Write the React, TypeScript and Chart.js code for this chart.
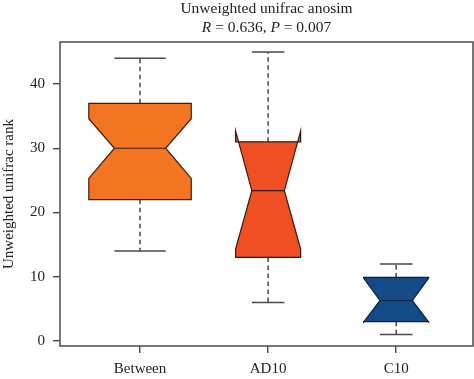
import React, { useEffect, useRef } from "react";
import { Chart, registerables } from "chart.js";

Chart.register(...registerables);

// ---- data ----
const categories = ["Between", "AD10", "C10"];
const whiskerLow = [14, 6, 1];
const q1 = [22, 13, 3];
const median = [30, 23.4, 6.3];
const q3 = [37, 31, 9.9];
const whiskerHigh = [44, 45, 12];
const notchLow = [25.3, 14.3, 2.95];
const notchHigh = [34.6, 32.7, 9.8];
const yTicks = [0, 10, 20, 30, 40];

// ---- style ----
const fills = ["#F37521", "#F04F24", "#134A88"];
const strokes = ["#3a1e10", "#3a1a10", "#0b1f3a"];
const boxHalf = [0.4, 0.254, 0.254];
const FONT = "'Liberation Serif', 'DejaVu Serif', serif";

const boxPlugin = {
  id: "notchedBoxes",
  afterDatasetsDraw(chart: any) {
    const { ctx, chartArea } = chart;
    const xs = chart.scales.x;
    const ys = chart.scales.y;
    ctx.save();
    categories.forEach((_, i) => {
      const cx = xs.getPixelForValue(i + 1);
      const w = xs.getPixelForValue(i + 1 + boxHalf[i]) - cx;
      const Y = (v: number) => ys.getPixelForValue(v);
      // whiskers (dashed)
      ctx.strokeStyle = "#4a4a4a";
      ctx.lineWidth = 1.5;
      ctx.setLineDash([4.5, 3.5]);
      ctx.beginPath();
      ctx.moveTo(cx, Y(q3[i]));
      ctx.lineTo(cx, Y(whiskerHigh[i]));
      ctx.moveTo(cx, Y(q1[i]));
      ctx.lineTo(cx, Y(whiskerLow[i]));
      ctx.stroke();
      ctx.setLineDash([]);
      // caps
      ctx.beginPath();
      ctx.moveTo(cx - w / 2, Y(whiskerHigh[i]));
      ctx.lineTo(cx + w / 2, Y(whiskerHigh[i]));
      ctx.moveTo(cx - w / 2, Y(whiskerLow[i]));
      ctx.lineTo(cx + w / 2, Y(whiskerLow[i]));
      ctx.stroke();
      // notched box polygon (R bxp style)
      const pts: [number, number][] = [
        [cx - w, Y(q1[i])],
        [cx - w, Y(notchLow[i])],
        [cx - w / 2, Y(median[i])],
        [cx - w, Y(notchHigh[i])],
        [cx - w, Y(q3[i])],
        [cx + w, Y(q3[i])],
        [cx + w, Y(notchHigh[i])],
        [cx + w / 2, Y(median[i])],
        [cx + w, Y(notchLow[i])],
        [cx + w, Y(q1[i])],
      ];
      ctx.beginPath();
      pts.forEach(([px, py], k) => (k === 0 ? ctx.moveTo(px, py) : ctx.lineTo(px, py)));
      ctx.closePath();
      ctx.fillStyle = fills[i];
      ctx.fill();
      ctx.strokeStyle = strokes[i];
      ctx.lineWidth = 1.2;
      ctx.lineJoin = "miter";
      ctx.stroke();
      // median
      ctx.beginPath();
      ctx.moveTo(cx - w / 2, Y(median[i]));
      ctx.lineTo(cx + w / 2, Y(median[i]));
      ctx.stroke();
    });
    // frame
    ctx.strokeStyle = "#555";
    ctx.lineWidth = 1.6;
    ctx.strokeRect(chartArea.left, chartArea.top, chartArea.right - chartArea.left, chartArea.bottom - chartArea.top);
    ctx.restore();
  },
  afterDraw(chart: any) {
    const { ctx, chartArea } = chart;
    const cx = (chartArea.left + chartArea.right) / 2;
    ctx.save();
    ctx.fillStyle = "#222";
    ctx.textBaseline = "alphabetic";
    ctx.textAlign = "center";
    ctx.font = `15.5px ${FONT}`;
    ctx.fillText("Unweighted unifrac anosim", cx, 13);
    const parts: [string, boolean][] = [
      ["R", true],
      [" = 0.636, ", false],
      ["P", true],
      [" = 0.007", false],
    ];
    const fontFor = (it: boolean) => `${it ? "italic " : ""}15.5px ${FONT}`;
    let total = 0;
    parts.forEach(([t, it]) => {
      ctx.font = fontFor(it);
      total += ctx.measureText(t).width;
    });
    let x = cx - total / 2;
    ctx.textAlign = "left";
    parts.forEach(([t, it]) => {
      ctx.font = fontFor(it);
      ctx.fillText(t, x, 32);
      x += ctx.measureText(t).width;
    });
    ctx.restore();
  },
};

export default function App() {
  const ref = useRef<HTMLCanvasElement | null>(null);
  useEffect(() => {
    document.body.style.margin = "0";
    const canvas = ref.current!;
    const chart = new Chart(canvas, {
      type: "scatter",
      data: {
        datasets: [
          {
            data: median.map((m, i) => ({ x: i + 1, y: m })),
            pointRadius: 0,
            showLine: false,
          },
        ],
      },
      options: {
        animation: false,
        responsive: false,
        devicePixelRatio: 1,
        layout: { padding: { top: 42, right: 1, left: 0, bottom: 0 } },
        plugins: { legend: { display: false }, tooltip: { enabled: false }, title: { display: false } },
        scales: {
          x: {
            type: "linear",
            min: 0.375,
            max: 3.6,
            afterBuildTicks: (s: any) => {
              s.ticks = categories.map((_, i) => ({ value: i + 1 }));
            },
            afterFit: (s: any) => {
              s.height = 33;
            },
            ticks: {
              autoSkip: false,
              maxRotation: 0,
              padding: 7,
              color: "#222",
              font: { family: FONT, size: 15 },
              callback: (v: any) => categories[Math.round(Number(v)) - 1] ?? "",
            },
            grid: { display: true, drawOnChartArea: false, drawTicks: true, tickLength: 7, color: "#444", lineWidth: 1.4 },
            border: { display: false },
          },
          y: {
            type: "linear",
            min: -0.78,
            max: 46.54,
            afterBuildTicks: (s: any) => {
              s.ticks = yTicks.map((v) => ({ value: v }));
            },
            afterFit: (s: any) => {
              s.width = 60;
            },
            ticks: {
              padding: 8,
              color: "#222",
              font: { family: FONT, size: 15 },
            },
            grid: { display: true, drawOnChartArea: false, drawTicks: true, tickLength: 7, color: "#444", lineWidth: 1.4 },
            border: { display: false },
            title: {
              display: true,
              text: "Unweighted unifrac rank",
              color: "#222",
              font: { family: FONT, size: 15 },
              padding: { top: 0, bottom: 0 },
            },
          },
        },
      },
      plugins: [boxPlugin],
    } as any);
    return () => chart.destroy();
  }, []);
  return <canvas ref={ref} width={474} height={379} style={{ display: "block" }} />;
}
